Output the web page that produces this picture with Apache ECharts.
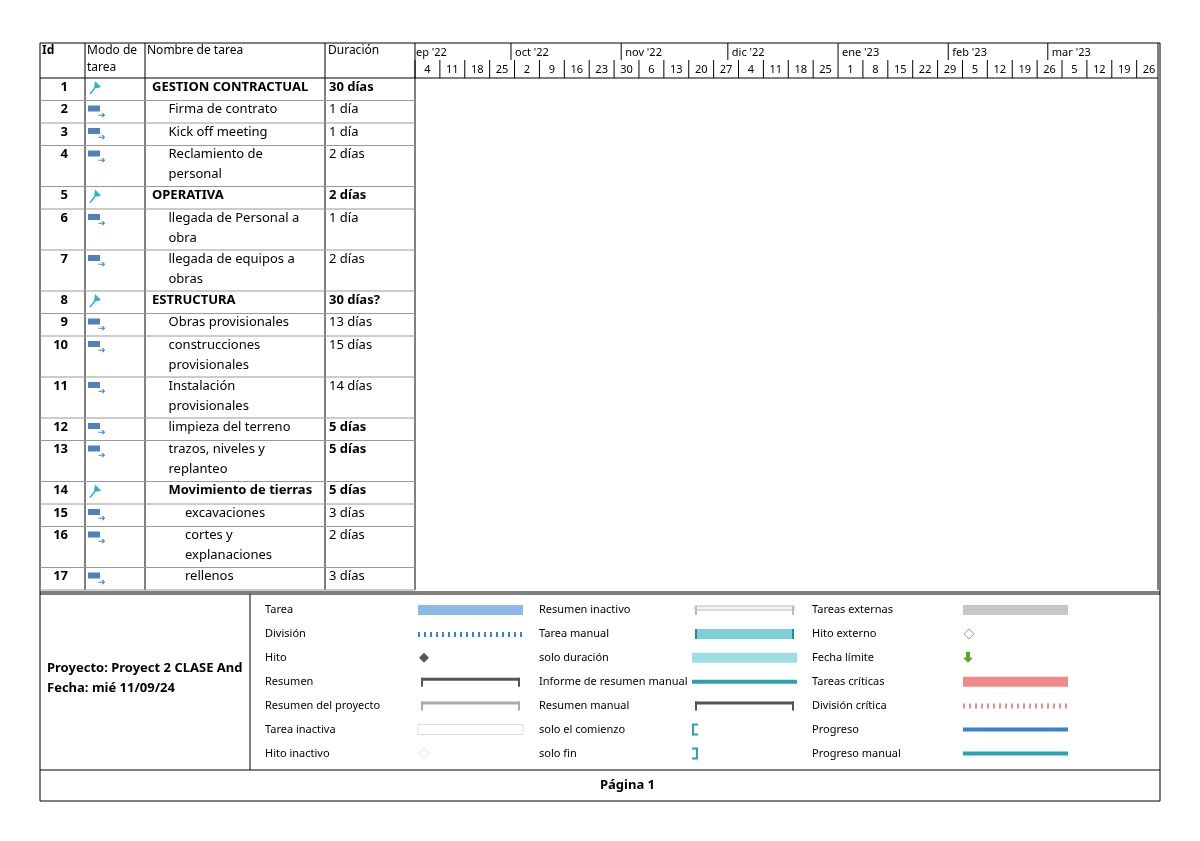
<!DOCTYPE html>
<html>
<head>
<meta charset="utf-8">
<title>Proyect 2 CLASE</title>
<script src="https://cdn.jsdelivr.net/npm/echarts@6/dist/echarts.min.js"></script>
<style>body{margin:0;background:#fff}#main{width:1200px;height:841px}</style>
</head>
<body>
<div id="main"></div>
<script>
// datos de tareas
var ids = [1,2,3,4,5,6,7,8,9,10,11,12,13,14,15,16,17];
var names = [['GESTION CONTRACTUAL'],['Firma de contrato'],['Kick off meeting'],['Reclamiento de','personal'],
  ['OPERATIVA'],['llegada de Personal a','obra'],['llegada de equipos a','obras'],['ESTRUCTURA'],
  ['Obras provisionales'],['construcciones','provisionales'],['Instalación','provisionales'],['limpieza del terreno'],
  ['trazos, niveles y','replanteo'],['Movimiento de tierras'],['excavaciones'],['cortes y','explanaciones'],['rellenos']];
var levels = [0,1,1,1,0,1,1,0,1,1,1,1,1,1,2,2,2];
var summary = [1,0,0,0,1,0,0,1,0,0,0,0,0,1,0,0,0];
var durations = ['30 días','1 día','1 día','2 días','2 días','1 día','2 días','30 días?','13 días','15 días','14 días','5 días','5 días','5 días','3 días','2 días','3 días'];
var durBold = [1,0,0,0,1,0,0,1,0,0,0,1,1,1,0,0,0];
// escala de tiempo
var startDate = '2022-09-04', endDate = '2023-04-01';
var months = [['2022-09-01',"ep '22"],['2022-10-01',"oct '22"],['2022-11-01',"nov '22"],['2022-12-01',"dic '22"],
  ['2023-01-01',"ene '23"],['2023-02-01',"feb '23"],['2023-03-01',"mar '23"]];
var weeks = [['2022-09-04',4],['2022-09-11',11],['2022-09-18',18],['2022-09-25',25],['2022-10-02',2],['2022-10-09',9],
  ['2022-10-16',16],['2022-10-23',23],['2022-10-30',30],['2022-11-06',6],['2022-11-13',13],['2022-11-20',20],
  ['2022-11-27',27],['2022-12-04',4],['2022-12-11',11],['2022-12-18',18],['2022-12-25',25],['2023-01-01',1],
  ['2023-01-08',8],['2023-01-15',15],['2023-01-22',22],['2023-01-29',29],['2023-02-05',5],['2023-02-12',12],
  ['2023-02-19',19],['2023-02-26',26],['2023-03-05',5],['2023-03-12',12],['2023-03-19',19],['2023-03-26',26]];
var legendItems = [
  ['Tarea','bar','#8DB9EA'],['División','dots','#3A7FD0'],['Hito','diamond','#555'],['Resumen','caps','#555'],
  ['Resumen del proyecto','caps','#aaa'],['Tarea inactiva','outline','#ddd'],['Hito inactivo','diamondo','#ddd'],
  ['Resumen inactivo','capso','#bbb'],['Tarea manual','manual','#7DCFD9'],['solo duración','bar','#9EDDE4'],
  ['Informe de resumen manual','line','#2AA0B0'],['Resumen manual','caps','#555'],['solo el comienzo','lb','#2AA0B0'],
  ['solo fin','rb','#2AA0B0'],['Tareas externas','bar','#C6C6C6'],['Hito externo','diamondo','#999'],
  ['Fecha límite','arrow','#5CA82B'],['Tareas críticas','bar','#F08A8A'],['División crítica','dots','#F08A8A'],
  ['Progreso','line','#3A7FD0'],['Progreso manual','line','#25A5B5']];

var FONT = 'Noto Sans';
var g = [];
function line(x1,y1,x2,y2,c,w){g.push({type:'line',shape:{x1:x1,y1:y1,x2:x2,y2:y2},style:{stroke:c||'#000',lineWidth:w||1}});}
function text(x,y,t,o){o=o||{};g.push({type:'text',x:x,y:y,style:{text:t,font:(o.bold?'bold ':'')+(o.size||13)+'px '+FONT,fill:'#000',textAlign:o.align||'left',textVerticalAlign:'middle'}});}

// marco
g.push({type:'rect',shape:{x:40,y:43,width:1120,height:758},style:{fill:'none',stroke:'#000',lineWidth:1}});
line(40,592,1160,592);line(40,594,1160,594);line(40,770,1160,770);line(250,594,250,770);
line(85,43,85,590);line(145,43,145,590);line(325,43,325,590);line(415,43,415,590);line(1158,43,1158,590);
line(40,78,1158,78);
text(42,51,'Id',{bold:true,size:12});text(87,51,'Modo de',{size:12});text(87,68,'tarea',{size:12});
text(147,51,'Nombre de tarea',{size:12});text(328,51,'Duración',{size:12});
var y = 78;
for (var i=0;i<ids.length;i++){
  var h = names[i].length>1 ? 41 : 22.5;
  text(68,y+9,String(ids[i]),{bold:true,align:'right'});
  // icono de modo
  if (summary[i]) {
    g.push({type:'polygon',shape:{points:[[95,y+3],[101,y+9],[98,y+10],[94,y+10]]},style:{fill:'#2AB5C5'}});
    g.push({type:'line',shape:{x1:95,y1:y+10,x2:90,y2:y+16},style:{stroke:'#2AB5C5',lineWidth:1.5}});
  } else {
    g.push({type:'rect',shape:{x:88,y:y+5,width:12,height:6},style:{fill:'#4F81BD'}});
    g.push({type:'text',x:98,y:y+10,style:{text:'➔',font:'9px '+FONT,fill:'#4F81BD'}});
  }
  var x = 152 + levels[i]*16.5;
  for (var k=0;k<names[i].length;k++) text(x,y+9+k*20,names[i][k],{bold:!!summary[i]});
  text(329,y+9,durations[i],{bold:!!durBold[i]});
  y += h;
  line(40,y,415,y,'#999');
}
// leyenda
text(47,668,'Proyecto: Proyect 2 CLASE And',{bold:true});
text(47,688,'Fecha: mié 11/09/24',{bold:true});
var cols=[[265,418],[539,692],[812,963]];
legendItems.forEach(function(it,j){
  var c=cols[Math.floor(j/7)], r=j%7, yy=610+r*23.9, sx=c[1];
  text(c[0],yy,it[0],{size:11});
  var col=it[2];
  switch(it[1]){
    case 'bar': g.push({type:'rect',shape:{x:sx,y:yy-5,width:105,height:10},style:{fill:col}});break;
    case 'dots': for(var d=0;d<105;d+=6) g.push({type:'rect',shape:{x:sx+d,y:yy-2,width:2,height:5},style:{fill:col}});break;
    case 'diamond': g.push({type:'polygon',shape:{points:[[sx+6,yy-5],[sx+11,yy],[sx+6,yy+5],[sx+1,yy]]},style:{fill:col}});break;
    case 'diamondo': g.push({type:'polygon',shape:{points:[[sx+6,yy-5],[sx+11,yy],[sx+6,yy+5],[sx+1,yy]]},style:{fill:'#fff',stroke:col}});break;
    case 'caps': g.push({type:'rect',shape:{x:sx+3,y:yy-4,width:99,height:3},style:{fill:col}});
      g.push({type:'rect',shape:{x:sx+3,y:yy-4,width:2,height:9},style:{fill:col}});
      g.push({type:'rect',shape:{x:sx+100,y:yy-4,width:2,height:9},style:{fill:col}});break;
    case 'capso': g.push({type:'rect',shape:{x:sx+3,y:yy-4,width:99,height:4},style:{fill:'#f4f4f4',stroke:col}});
      g.push({type:'rect',shape:{x:sx+3,y:yy-4,width:2,height:9},style:{fill:col}});
      g.push({type:'rect',shape:{x:sx+100,y:yy-4,width:2,height:9},style:{fill:col}});break;
    case 'outline': g.push({type:'rect',shape:{x:sx,y:yy-5,width:105,height:10},style:{fill:'#fff',stroke:col}});break;
    case 'manual': g.push({type:'rect',shape:{x:sx+3,y:yy-5,width:99,height:10},style:{fill:col}});
      g.push({type:'rect',shape:{x:sx+3,y:yy-5,width:2,height:10},style:{fill:'#1E8F9C'}});
      g.push({type:'rect',shape:{x:sx+100,y:yy-5,width:2,height:10},style:{fill:'#1E8F9C'}});break;
    case 'line': g.push({type:'rect',shape:{x:sx,y:yy-2,width:105,height:4},style:{fill:col}});break;
    case 'lb': g.push({type:'polyline',shape:{points:[[sx+6,yy-5],[sx+1,yy-5],[sx+1,yy+5],[sx+6,yy+5]]},style:{stroke:col,lineWidth:2,fill:'none'}});break;
    case 'rb': g.push({type:'polyline',shape:{points:[[sx,yy-5],[sx+5,yy-5],[sx+5,yy+5],[sx,yy+5]]},style:{stroke:col,lineWidth:2,fill:'none'}});break;
    case 'arrow': g.push({type:'polygon',shape:{points:[[sx+3,yy-6],[sx+7,yy-6],[sx+7,yy],[sx+10,yy],[sx+5,yy+5],[sx,yy],[sx+3,yy]]},style:{fill:col}});break;
  }
});
text(600,785,'Página 1',{bold:true});

var chart = echarts.init(document.getElementById('main'));
function t(s){return new Date(s+'T00:00:00').getTime();}
var startT=t(startDate), endT=t(endDate);
chart.setOption({
  animation:false,
  grid:{left:415,right:42,top:43,bottom:763},
  xAxis:{type:'time',min:startT,max:endT,show:false},
  yAxis:{type:'value',min:0,max:1,show:false},
  series:[{
    type:'custom',silent:true,clip:false,
    data:months.map(function(m){return [t(m[0]),m[1]];}),
    renderItem:function(params,api){
      var x=api.coord([api.value(0),0])[0];
      var ch=[{type:'text',x:Math.max(x+4,416),y:53,style:{text:months[params.dataIndex][1],font:'11px '+FONT,fill:'#000',textVerticalAlign:'middle'}}];
      if (x>416) ch.push({type:'line',shape:{x1:x,y1:43,x2:x,y2:60},style:{stroke:'#000',lineWidth:1}});
      return {type:'group',children:ch};
    }
  },{
    type:'custom',silent:true,clip:false,
    data:weeks.map(function(w){return [t(w[0]),w[1]];}),
    renderItem:function(params,api){
      var x=api.coord([api.value(0),0])[0], x2=api.coord([api.value(0)+7*864e5,0])[0];
      return {type:'group',children:[
        {type:'line',shape:{x1:x,y1:60,x2:x,y2:78},style:{stroke:'#000',lineWidth:1}},
        {type:'text',x:(x+x2)/2,y:70,style:{text:String(weeks[params.dataIndex][1]),font:'11px '+FONT,fill:'#000',textAlign:'center',textVerticalAlign:'middle'}}]};
    }
  }],
  graphic:g
});
</script>
</body>
</html>
